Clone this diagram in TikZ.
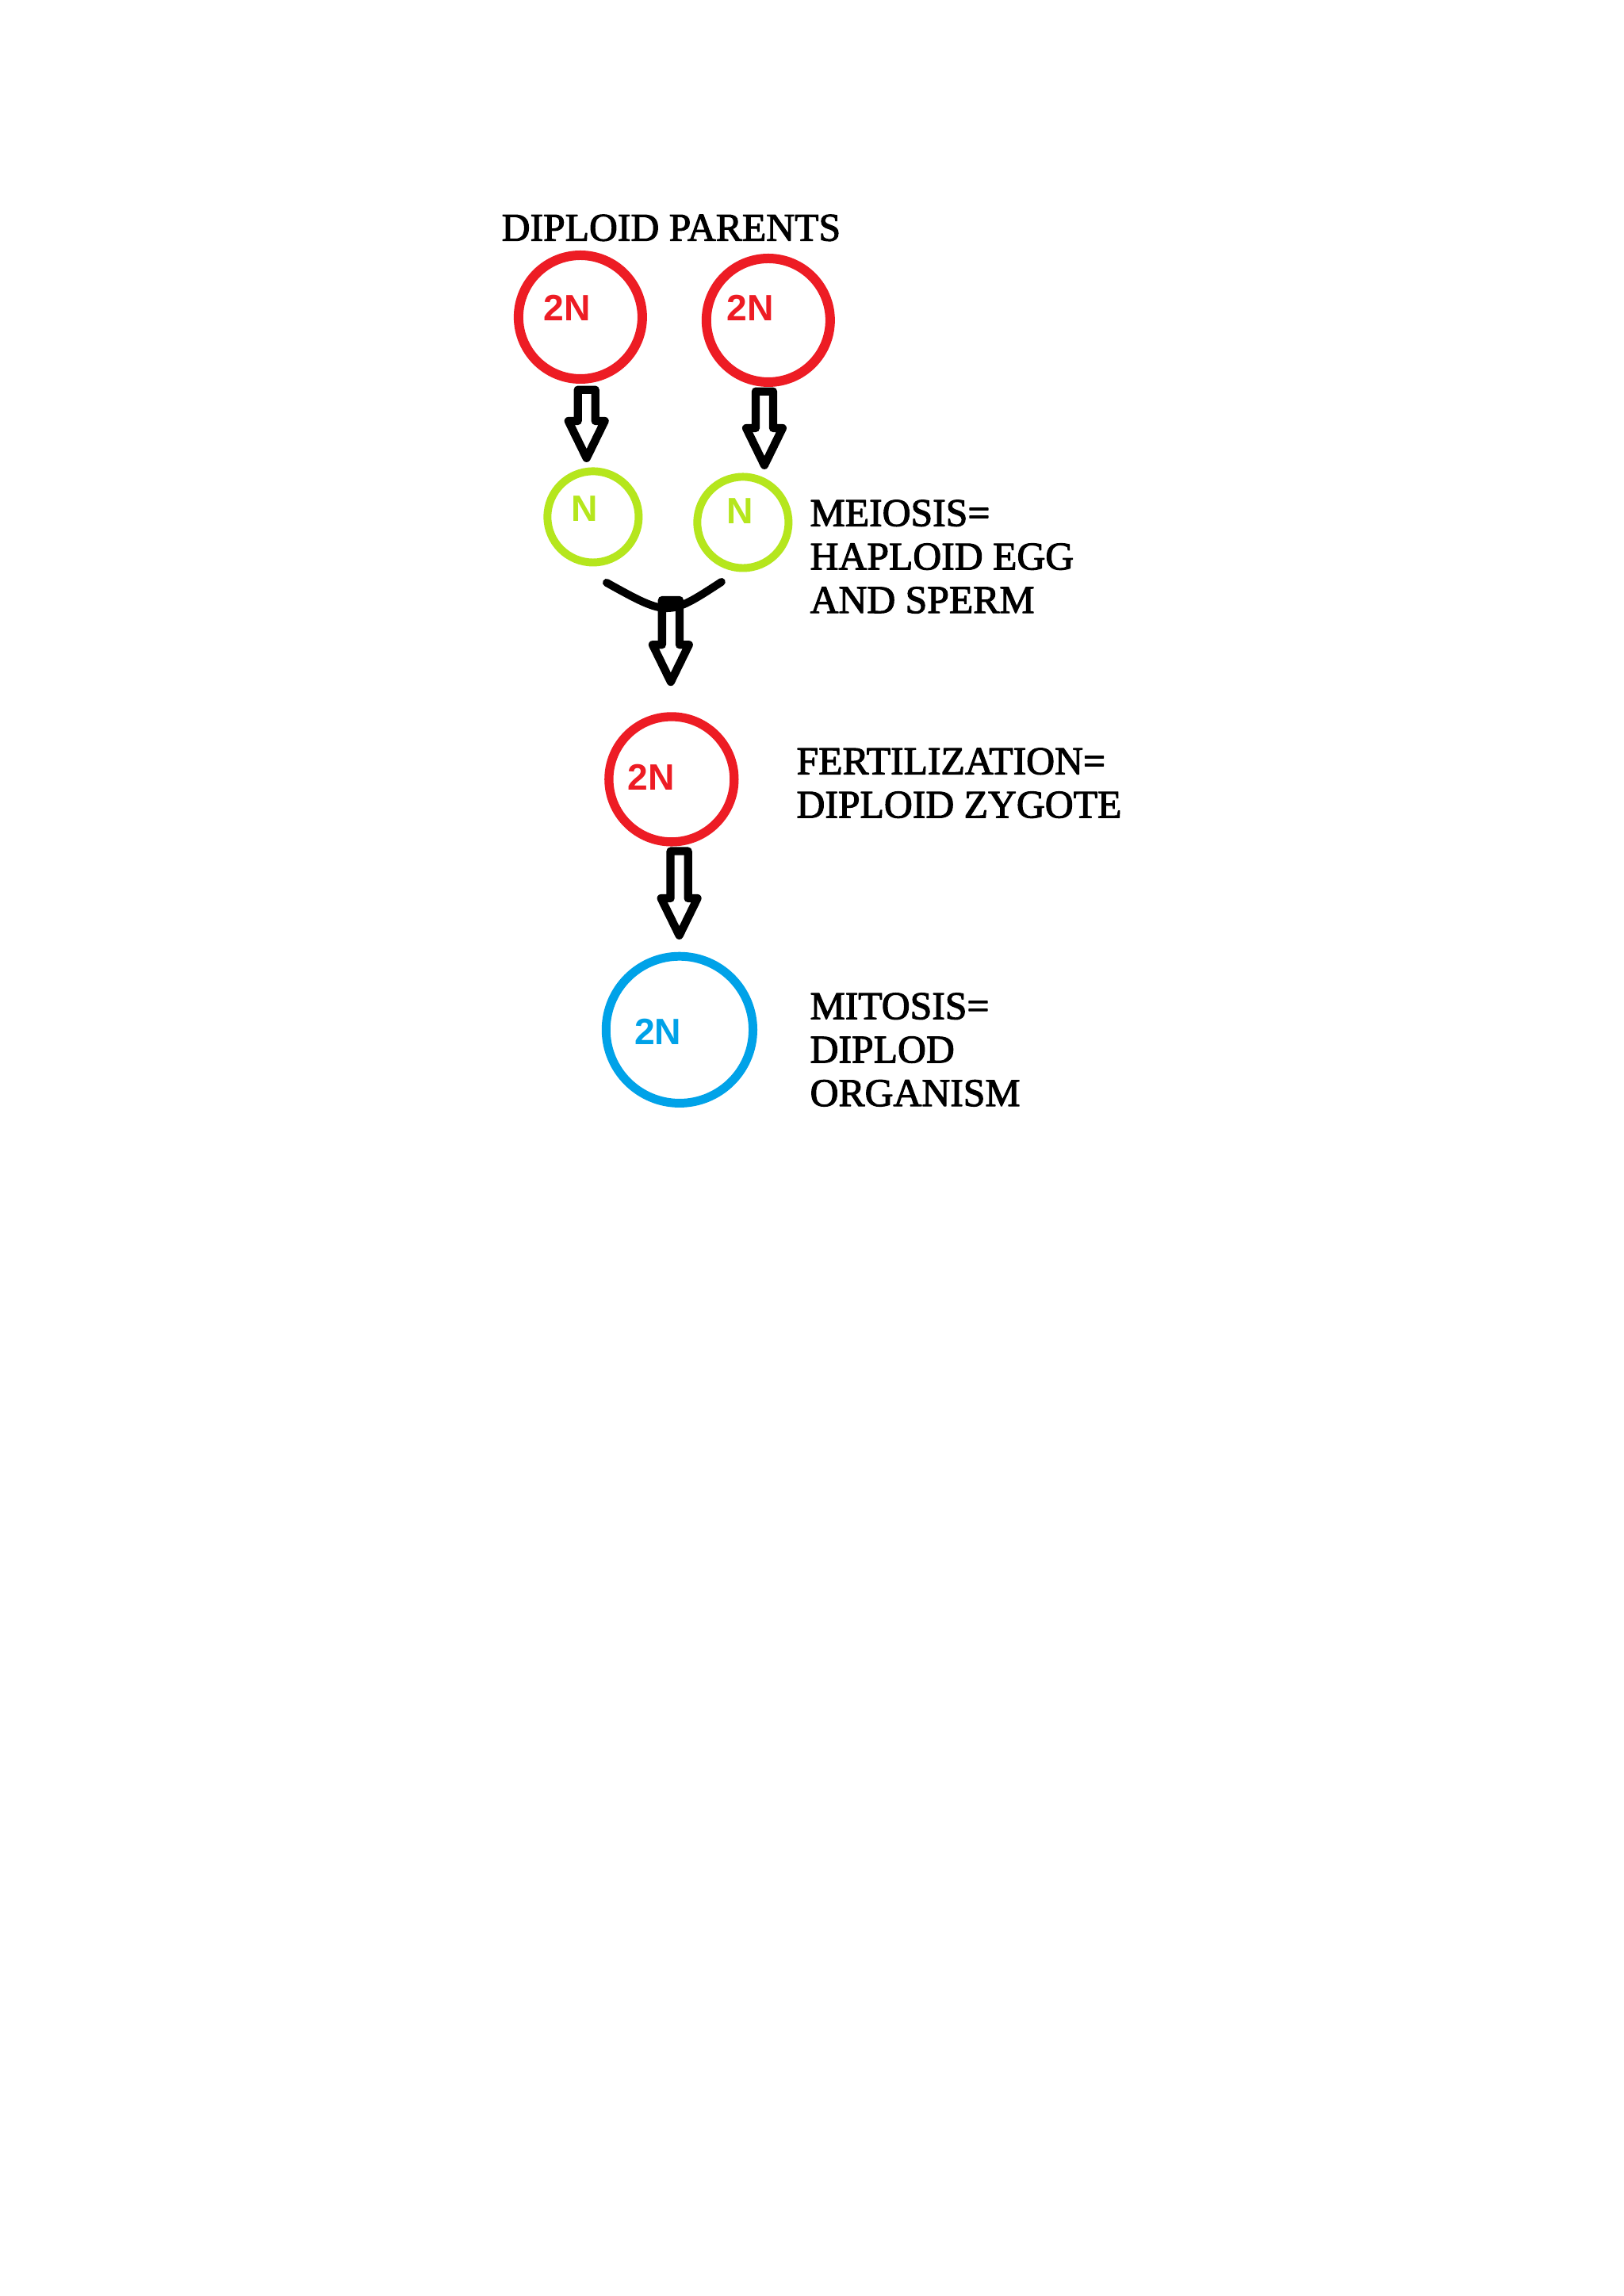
\documentclass[tikz,border=0pt]{standalone}
\usepackage{fontspec}
\setmainfont{Liberation Serif}
\newfontfamily\cellfont{Liberation Sans}
\newfontfamily\capfont[FakeBold=2.2]{Liberation Serif}
\usetikzlibrary{calc}
\definecolor{paintred}{RGB}{237,28,36}
\definecolor{paintlime}{RGB}{181,230,29}
\definecolor{paintblue}{RGB}{0,162,232}

\begin{document}
\begin{tikzpicture}[line join=round]
  \tikzstyle{cell}=[circle,draw,inner sep=0pt,outer sep=0pt]
  \tikzstyle{caption}=[align=left,anchor=north west,inner sep=0pt,font=\capfont\fontsize{14.5}{16}\selectfont]
  \tikzstyle{blockarrow}=[draw=black,fill=white,line width=3pt,
    to path={let \p1=(\tikztostart),\p2=(\tikztotarget) in
      (\x1-0.113cm,\y1) -- (\x1+0.113cm,\y1) -- (\x1+0.113cm,\y2+0.48cm) -- (\x1+0.235cm,\y2+0.48cm)
      -- (\x1,\y2) -- (\x1-0.235cm,\y2+0.48cm) -- (\x1-0.113cm,\y2+0.48cm) -- cycle}]

  \useasboundingbox[fill=white] (0,0) rectangle (21,-29.7);

  \foreach \name/\px/\py/\col/\dia/\lw/\ploidy/\dx/\dy in {
      p-1/7.506/-4.102/paintred/1.60cm/3.5pt/2N/-0.17/0.12,
      p-2/9.936/-4.143/paintred/1.60cm/3.5pt/2N/-0.23/0.16,
      g-1/7.670/-6.686/paintlime/1.18cm/2.9pt/N/-0.11/0.11,
      g-2/9.608/-6.758/paintlime/1.18cm/2.9pt/N/-0.04/0.15,
      zyg/8.685/-10.080/paintred/1.62cm/3.3pt/2N/-0.26/0.03,
      org/8.788/-13.320/paintblue/1.90cm/3.2pt/2N/-0.28/-0.03}
    \node[cell,draw=\col,line width=\lw,minimum size=\dia,
          label={[text=\col,font=\cellfont\bfseries\fontsize{13.5}{14}\selectfont,xshift=\dx cm,yshift=\dy cm]center:\ploidy}] (\name) at (\px,\py) {};

  \coordinate (join-l) at (7.845,-7.537);
  \coordinate (join-r) at (9.331,-7.527);
  \coordinate (join) at (8.675,-7.763);

  \draw[blockarrow] ([xshift=0.08cm,yshift=-0.14cm]p-1.south) to ([yshift=0.17cm]g-1.north);
  \draw[blockarrow] ([xshift=-0.05cm,yshift=-0.12cm]p-2.south) to ([yshift=0.15cm]g-2.north);
  \draw[blockarrow] (join) to ([yshift=0.45cm]zyg.north);
  \draw[blockarrow] ([xshift=0.1cm,yshift=-0.12cm]zyg.south) to ([yshift=0.27cm]org.north);
  \draw[line width=2.9pt,line cap=round] (join-l) .. controls (8.64,-7.978) .. (join-r);

  \node[caption] (parents) at (6.481,-2.769) {DIPLOID PARENTS};
  \node[caption] (meiosis) at (10.470,-6.460) {MEIOSIS=\\HAPLOID EGG\\AND SPERM};
  \node[caption] (fertilization) at (10.295,-9.670) {FERTILIZATION=\\DIPLOID ZYGOTE};
  \node[caption] (mitosis) at (10.470,-12.838) {MITOSIS=\\DIPLOD\\ORGANISM};
\end{tikzpicture}
\end{document}
